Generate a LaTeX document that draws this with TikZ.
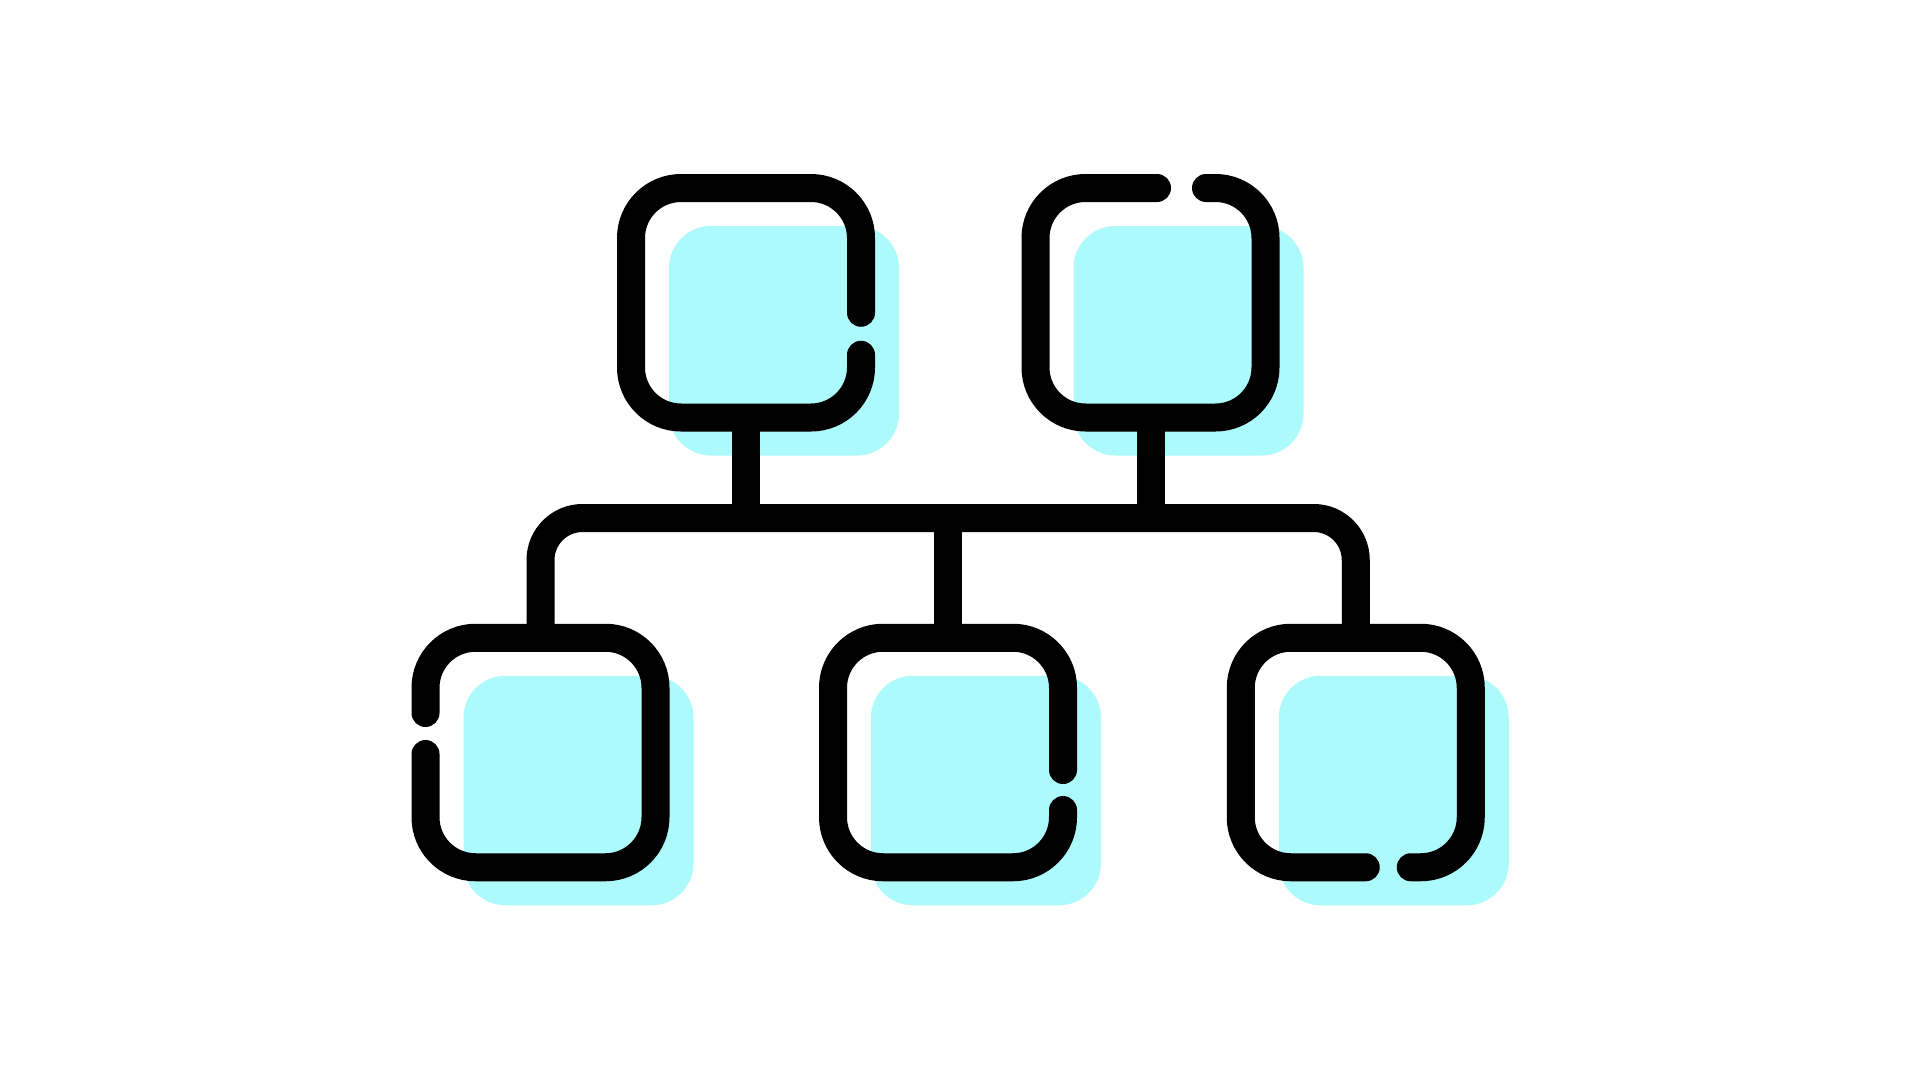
\documentclass[tikz,border=0pt]{standalone}
\usetikzlibrary{calc}
\definecolor{cyanfill}{RGB}{172,250,252}
\tikzset{
  boxnode/.style={minimum width=230pt, minimum height=229.5pt, inner sep=0pt, outer sep=0pt},
  outline/.style={draw=black, line width=28pt, line cap=round, line join=round, rounded corners=50pt},
  stem/.style={draw=black, line width=28pt, line cap=butt},
  shade/.style={fill=cyanfill, rounded corners=42pt},
}
\begin{document}
\begin{tikzpicture}[x=1pt, y=-1pt]
\useasboundingbox (0,0) rectangle (1920,1080);
\fill[white] (0,0) rectangle (1920,1080);
% box positions
\node[boxnode] (A) at (746,302.75) {};
\node[boxnode] (B) at (1150.5,302.75) {};
\node[boxnode] (C) at (540.5,752.5) {};
\node[boxnode] (D) at (948,752.5) {};
\node[boxnode] (E) at (1355.75,752.5) {};
\coordinate (bus) at (948,518);
% cyan shadows
\foreach \n in {A,B,C,D,E}{
  \fill[shade] ($(\n.south west)+(38,38)$) rectangle ($(\n.north east)+(38,38)$);
}
% outlines with gaps
\draw[outline] ($(A.east)+(0,52)$) -- (A.south east) -- (A.south west) -- (A.north west) -- (A.north east) -- ($(A.east)+(0,10)$);
\draw[outline] ($(B.north)+(55.5,0)$) -- (B.north east) -- (B.south east) -- (B.south west) -- (B.north west) -- ($(B.north)+(6.5,0)$);
\draw[outline] ($(C.west)+(0,1.5)$) -- (C.south west) -- (C.south east) -- (C.north east) -- (C.north west) -- ($(C.west)+(0,-39.5)$);
\draw[outline] ($(D.east)+(0,57.5)$) -- (D.south east) -- (D.south west) -- (D.north west) -- (D.north east) -- ($(D.east)+(0,17.5)$);
\draw[outline] ($(E.south)+(55,0)$) -- (E.south east) -- (E.north east) -- (E.north west) -- (E.south west) -- ($(E.south)+(10,0)$);
% connectors
\draw[stem, rounded corners=42pt] (C.north) -- (C.north |- bus) -- (E.north |- bus) -- (E.north);
\draw[stem] (A.south) -- (A.south |- bus);
\draw[stem] (B.south) -- (B.south |- bus);
\draw[stem] (D.north) -- (D.north |- bus);
\end{tikzpicture}
\end{document}
